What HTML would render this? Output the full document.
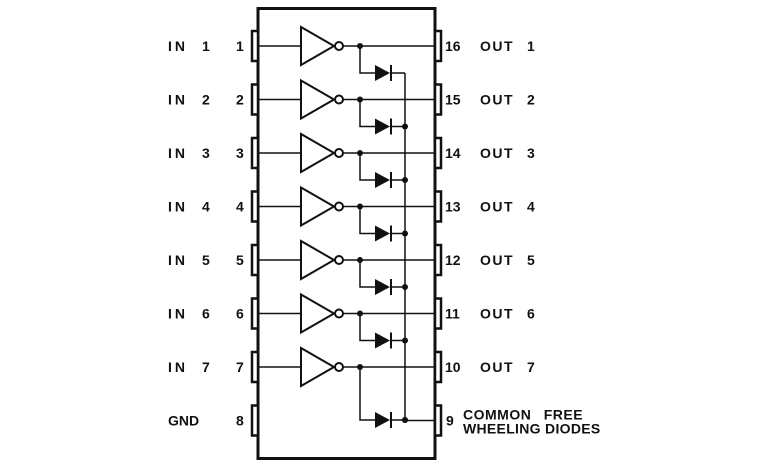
<!DOCTYPE html>
<html><head><style>
html,body{margin:0;padding:0;background:#fff;}
svg{display:block;}
text{font-family:"Liberation Sans",sans-serif;font-size:14px;fill:#111;font-weight:bold;}
</style></head><body>
<svg width="768" height="471" viewBox="0 0 768 471" xmlns="http://www.w3.org/2000/svg">
<rect x="258" y="8.5" width="177" height="450" fill="none" stroke="#111" stroke-width="3"/>
<script>
const ns="http://www.w3.org/2000/svg";
const svg=document.querySelector('svg');
function el(t,a,txt){const e=document.createElementNS(ns,t);for(const k in a)e.setAttribute(k,a[k]);if(txt!==undefined)e.textContent=txt;svg.appendChild(e);return e;}
const S="#111";
for(let i=0;i<8;i++){
  const y=46+53.5*i;
  el('rect',{x:252,y:y-15,width:6,height:30,fill:'#fff',stroke:S,'stroke-width':2.5});
  el('rect',{x:435,y:y-15,width:6,height:30,fill:'#fff',stroke:S,'stroke-width':2.5});
  el('text',{x:236,y:y+5},String(i+1));
  if(i<7){
    el('text',{x:168,y:y+5,'letter-spacing':'3'},'IN');
    el('text',{x:202,y:y+5},String(i+1));
    el('text',{x:445,y:y+5},String(16-i));
    el('text',{x:480,y:y+5,'letter-spacing':'1.5'},'OUT');
    el('text',{x:527,y:y+5},String(i+1));
    el('line',{x1:258,y1:y,x2:301,y2:y,stroke:S,'stroke-width':1.5});
    el('polygon',{points:`301,${y-19} 301,${y+19} 334,${y}`,fill:'#fff',stroke:S,'stroke-width':2});
    el('circle',{cx:339,cy:y,r:4,fill:'#fff',stroke:S,'stroke-width':2});
    el('line',{x1:343,y1:y,x2:435,y2:y,stroke:S,'stroke-width':1.5});
    el('circle',{cx:360,cy:y,r:3,fill:S});
    const dy=(i<6)?y+27:420;
    el('polyline',{points:`360,${y} 360,${dy} 375,${dy}`,fill:'none',stroke:S,'stroke-width':1.5});
    el('polygon',{points:`375,${dy-8} 375,${dy+8} 390,${dy}`,fill:S});
    el('line',{x1:391,y1:dy-8,x2:391,y2:dy+8,stroke:S,'stroke-width':2});
    el('line',{x1:390,y1:dy,x2:405,y2:dy,stroke:S,'stroke-width':1.5});
    if(i>0) el('circle',{cx:405,cy:dy,r:3,fill:S});
  } else {
    el('text',{x:168,y:y+5},'GND');
    el('text',{x:446,y:y+5},'9');
    el('text',{x:463,y:y-1,'letter-spacing':'0.5','word-spacing':'8'},'COMMON FREE');
    el('text',{x:463,y:y+13,'letter-spacing':'0.3'},'WHEELING DIODES');
    el('line',{x1:405,y1:y,x2:435,y2:y,stroke:S,'stroke-width':1.5});
  }
}
el('line',{x1:405,y1:73,x2:405,y2:420,stroke:S,'stroke-width':1.5});
el('circle',{cx:405,cy:420,r:3,fill:S});
</script>
</svg>
</body></html>
